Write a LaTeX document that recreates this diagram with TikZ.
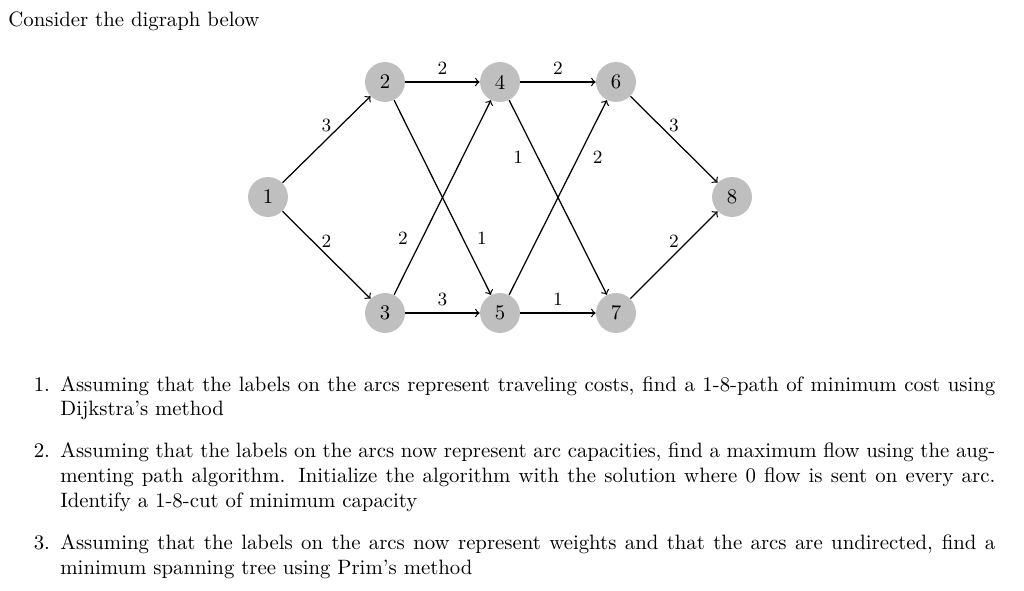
\documentclass[tikz,border=0pt]{standalone}
\begin{document}
\begin{tikzpicture}[x=0.4808pt,y=-0.4808pt,
	vertex/.style={circle,fill=lightgray,minimum size=19.2pt,inner sep=0pt},
	arc/.style={->,line width=0.6pt},
	lab/.style={font=\small}]
	\useasboundingbox (0,0) rectangle (1024,591);
	\node[anchor=base west,inner sep=0pt] (title) at (8,27) {Consider the digraph below};
	% vertices
	\node[vertex] (n1) at (268,197) {1};
	\node[vertex] (n2) at (385,82)  {2};
	\node[vertex] (n3) at (385,313) {3};
	\node[vertex] (n4) at (500,82)  {4};
	\node[vertex] (n5) at (500,313) {5};
	\node[vertex] (n6) at (616,82)  {6};
	\node[vertex] (n7) at (616,313) {7};
	\node[vertex] (n8) at (732,197) {8};
	% arcs
	\draw[arc] (n1) -- node[lab,above] {3} (n2);
	\draw[arc] (n1) -- node[lab,above] {2} (n3);
	\draw[arc] (n2) -- node[lab,above] {2} (n4);
	\draw[arc] (n2) -- node[lab,pos=0.78,above right] {1} (n5);
	\draw[arc] (n3) -- node[lab,pos=0.22,above left] {2} (n4);
	\draw[arc] (n3) -- node[lab,above] {3} (n5);
	\draw[arc] (n4) -- node[lab,above] {2} (n6);
	\draw[arc] (n4) -- node[lab,pos=0.22,below left] {1} (n7);
	\draw[arc] (n5) -- node[lab,pos=0.78,below right] {2} (n6);
	\draw[arc] (n5) -- node[lab,above] {1} (n7);
	\draw[arc] (n6) -- node[lab,above] {3} (n8);
	\draw[arc] (n7) -- node[lab,above] {2} (n8);
	% questions
	\node[anchor=north west,inner sep=0pt,text width=474.5pt,align=justify] (tasks) at (8,349) {%
		\begin{enumerate}
		\item Assuming that the labels on the arcs represent traveling costs, find a 1-8-path of minimum cost using Dijkstra's method
		\item Assuming that the labels on the arcs now represent arc capacities, find a maximum flow using the aug-\linebreak menting path algorithm. Initialize the algorithm with the solution where 0 flow is sent on every arc. Identify a 1-8-cut of minimum capacity
		\item Assuming that the labels on the arcs now represent weights and that the arcs are undirected, find a minimum spanning tree using Prim's method
		\end{enumerate}};
\end{tikzpicture}
\end{document}
